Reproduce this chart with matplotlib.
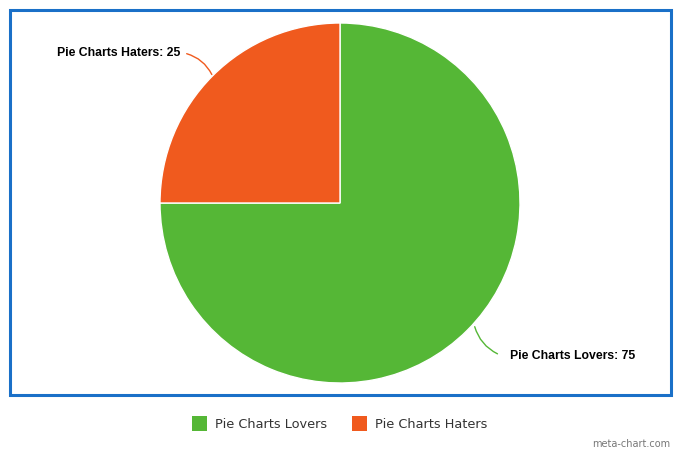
import matplotlib
matplotlib.use('Agg')
import matplotlib.pyplot as plt
from matplotlib.patches import Rectangle, FancyArrowPatch

# Chart data
labels = ['Pie Charts Lovers', 'Pie Charts Haters']
values = [75, 25]
colors = ['#55b736', '#f05a1e']

W, H = 681, 454
fig = plt.figure(figsize=(W / 100, H / 100), dpi=100)
ax = fig.add_axes([0, 0, 1, 1])

# Pie
cx, cy, r = 340, H - 203, 180
wedges, _ = ax.pie(values, colors=colors, startangle=90, counterclock=False,
                   center=(cx, cy), radius=r, frame=True,
                   wedgeprops=dict(edgecolor='white', linewidth=1))
ax.set_xlim(0, W)
ax.set_ylim(0, H)
ax.axis('off')

# Blue frame around the plot area
ax.add_patch(Rectangle((10, H - 395), 661, 385, fill=False, edgecolor='#1a70c8', lw=2.2))

# Data labels with connectors
lab_font = dict(family='Liberation Sans', weight='bold', size=8.8, color='black')
ax.text(180, H - 53, f'{labels[1]}: {values[1]}', ha='right', va='center', **lab_font)
ax.add_patch(FancyArrowPatch((184, H - 53), (213, H - 77), arrowstyle='-',
                             connectionstyle='arc3,rad=-0.25', color=colors[1], lw=1))
ax.text(510, H - 356, f'{labels[0]}: {values[0]}', ha='left', va='center', **lab_font)
ax.add_patch(FancyArrowPatch((474, H - 324), (500, H - 355), arrowstyle='-',
                             connectionstyle='arc3,rad=0.25', color=colors[0], lw=1))

# Legend
leg_x = [192, 352]
for x, lab, c in zip(leg_x, labels, colors):
    ax.add_patch(Rectangle((x, H - 431), 15, 15, facecolor=c, edgecolor='none'))
    ax.text(x + 23, H - 424, lab, ha='left', va='center', family='DejaVu Sans',
            size=9.3, color='#333333')

ax.text(670, H - 444, 'meta-chart.com', ha='right', va='center', family='DejaVu Sans',
        size=7, color='#777777')

fig.savefig('out.png', dpi=100)
